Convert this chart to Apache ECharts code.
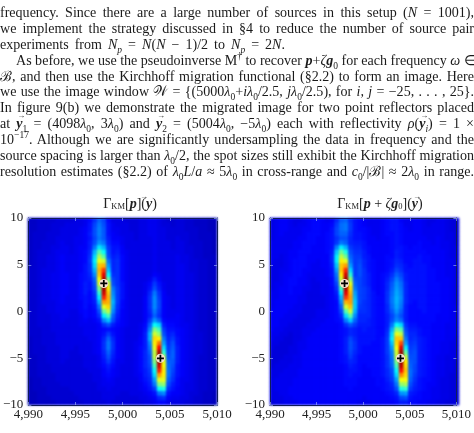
<!DOCTYPE html>
<html>
<head>
<meta charset="utf-8">
<title>Kirchhoff migration images</title>
<style>
  html, body { margin:0; padding:0; background:#fff; width:474px; height:433px; overflow:hidden; }
  #heat, #axes { position:absolute; left:0; top:0; width:474px; height:433px; }
  #heat { filter:blur(1.1px); }
  #axes { filter:blur(0.45px); }
  #text { position:absolute; left:0; top:0; width:474px; filter:blur(0.45px);
          font-family:"Liberation Serif",serif; font-size:14.05px; color:#1a1a1a; }
  #text div { position:absolute; left:0; width:474px; height:16px; line-height:16px; white-space:nowrap;
              text-align:justify; text-align-last:justify; }
  #text div.ind { left:16px; width:458px; }
  #text sub { font-size:9.5px; line-height:0; }
  #text sup { font-size:9.5px; line-height:0; }
  .v { position:relative; font-weight:bold; font-style:italic; }
  .v::before { content:"\2192"; position:absolute; left:1px; top:-7px; font-size:8px; font-weight:normal; font-style:normal; }
</style>
</head>
<body>
<div id="heat"></div>
<div id="axes"></div>
<div id="text">
  <div style="top:4px">frequency. Since there are a large number of sources in this setup (<i>N</i> = 1001),</div>
  <div style="top:20px">we implement the strategy discussed in §4 to reduce the number of source pair</div>
  <div style="top:36px;width:285px">experiments from <i>N<sub>p</sub></i> = <i>N</i>(<i>N</i> − 1)/2 to <i>N<sub>p</sub></i> = 2<i>N</i>.</div>
  <div class="ind" style="top:52px">As before, we use the pseudoinverse M<sup>†</sup> to recover <b><i>p</i></b>+<i>ζ</i><b><i>g</i></b><sub>0</sub> for each frequency <i>ω</i> ∈</div>
  <div style="top:68px">ℬ, and then use the Kirchhoff migration functional (§2.2) to form an image. Here</div>
  <div style="top:83px">we use the image window 𝒲 = {(5000<i>λ</i><sub>0</sub>+<i>iλ</i><sub>0</sub>/2.5, <i>jλ</i><sub>0</sub>/2.5), for <i>i, j</i> = −25, . . . , 25}.</div>
  <div style="top:99px">In figure 9(b) we demonstrate the migrated image for two point reflectors placed</div>
  <div style="top:115px">at <span class="v">y</span><sub>1</sub> = (4098<i>λ</i><sub>0</sub>, 3<i>λ</i><sub>0</sub>) and <span class="v">y</span><sub>2</sub> = (5004<i>λ</i><sub>0</sub>, −5<i>λ</i><sub>0</sub>) each with reflectivity <i>ρ</i>(<span class="v">y</span><sub><i>i</i></sub>) = 1 ×</div>
  <div style="top:131px">10<sup>−17</sup>. Although we are significantly undersampling the data in frequency and the</div>
  <div style="top:147px">source spacing is larger than <i>λ</i><sub>0</sub>/2, the spot sizes still exhibit the Kirchhoff migration</div>
  <div style="top:163px">resolution estimates (§2.2) of <i>λ</i><sub>0</sub><i>L</i>/<i>a</i> ≈ 5<i>λ</i><sub>0</sub> in cross-range and <i>c</i><sub>0</sub>/|ℬ| ≈ 2<i>λ</i><sub>0</sub> in range.</div>
</div>
<script src="https://cdn.jsdelivr.net/npm/echarts@6/dist/echarts.min.js"></script>
<script>
var xCells = ['4990','4990.5','4991','4991.5','4992','4992.5','4993','4993.5','4994','4994.5','4995','4995.5','4996','4996.5','4997','4997.5','4998','4998.5','4999','4999.5','5000','5000.5','5001','5001.5','5002','5002.5','5003','5003.5','5004','5004.5','5005','5005.5','5006','5006.5','5007','5007.5','5008','5008.5','5009','5009.5','5010'];
var yCells = ['10','9.5','9','8.5','8','7.5','7','6.5','6','5.5','5','4.5','4','3.5','3','2.5','2','1.5','1','0.5','0','-0.5','-1','-1.5','-2','-2.5','-3','-3.5','-4','-4.5','-5','-5.5','-6','-6.5','-7','-7.5','-8','-8.5','-9','-9.5','-10'];

// image values, rows run from y = 10 down to y = -10 (0-100)
var imageP = [
[7,7,8,8,8,8,9,9,9,9, 10,10,11,13,17,22,19,13,10,10, 10,9,9,9,10,10,11,11,10,9, 8,8,9,9,8,8,7,7,7,6,6],
[7,7,8,8,8,9,9,9,10,10, 10,10,11,14,19,24,20,14,11,10, 10,10,9,9,10,10,11,11,10,9, 9,8,9,9,8,8,7,7,7,6,6],
[7,7,8,8,8,9,9,10,10,10, 10,11,12,14,20,25,21,14,11,11, 10,10,9,9,10,10,11,11,10,10, 9,9,9,9,8,8,8,7,7,6,6],
[7,8,8,8,9,9,9,10,10,10, 10,11,12,15,20,25,21,14,12,11, 10,10,10,9,10,10,11,11,10,10, 9,9,9,9,9,8,8,7,7,7,6],
[7,8,8,8,9,9,10,10,10,10, 11,11,12,14,19,24,21,15,12,12, 11,10,10,9,10,10,10,11,10,10, 9,9,10,9,9,8,8,7,7,7,6],
[7,8,8,9,9,9,10,11,10,10, 11,11,12,15,20,27,24,16,13,13, 11,10,10,10,10,10,10,11,10,10, 10,9,10,10,9,8,8,8,7,7,6],
[7,8,8,9,9,10,10,11,11,10, 11,12,12,15,24,35,30,18,14,14, 12,10,10,10,10,10,10,11,10,10, 10,9,10,10,9,9,8,8,7,7,6],
[7,8,9,9,9,10,11,11,11,10, 11,12,13,16,30,46,38,19,14,15, 12,11,10,10,10,10,10,11,10,10, 10,10,10,10,9,9,8,8,7,7,6],
[7,8,9,9,10,10,11,12,11,11, 11,12,13,17,34,54,46,20,15,16, 13,11,10,10,10,10,10,11,10,10, 10,10,11,10,10,9,8,8,7,7,7],
[7,8,9,9,10,10,11,12,11,11, 11,12,13,18,36,61,58,24,16,17, 13,11,10,10,10,10,10,11,10,10, 10,10,11,10,10,9,9,8,8,7,7],
[7,8,9,9,10,10,11,12,11,11, 11,12,14,17,34,68,70,28,16,17, 13,11,10,10,10,10,10,11,10,10, 10,10,11,11,10,9,9,8,8,7,7],
[8,8,9,10,10,10,11,12,11,11, 11,12,14,17,30,70,82,32,16,17, 13,11,10,10,10,10,10,11,10,10, 10,10,11,11,10,9,9,8,8,7,7],
[8,8,9,10,10,11,11,12,12,11, 11,13,14,16,26,68,90,38,17,17, 13,11,10,10,10,10,10,12,11,10, 10,10,11,11,10,10,9,8,8,7,7],
[8,8,9,10,10,11,11,12,12,11, 11,13,14,15,22,62,96,48,19,17, 13,11,10,10,10,10,11,15,12,10, 10,10,11,11,10,10,9,8,8,7,7],
[8,8,9,10,10,11,11,12,12,11, 11,13,15,14,20,58,100,58,20,17, 14,11,10,10,10,11,13,18,14,11, 10,10,11,11,10,10,9,8,8,7,7],
[8,8,9,10,10,11,11,12,12,11, 11,13,15,14,19,50,97,64,24,18, 14,11,10,10,10,11,14,20,15,11, 10,10,11,11,10,10,9,8,8,7,7],
[8,8,9,10,10,11,11,12,12,11, 11,13,15,13,17,42,92,68,26,18, 14,11,10,10,10,11,16,24,17,12, 10,10,11,11,10,10,9,8,8,7,7],
[8,8,9,10,10,11,11,12,11,11, 11,13,14,13,16,36,84,70,28,18, 14,11,10,10,10,12,17,26,18,12, 11,10,11,11,10,10,9,8,8,7,7],
[8,8,9,10,10,10,11,12,11,11, 11,12,14,13,15,30,72,70,30,18, 13,11,10,10,10,12,17,26,19,12, 11,10,11,11,10,10,9,8,8,7,7],
[8,8,9,9,10,10,11,11,11,11, 11,12,14,12,14,24,60,66,28,17, 13,11,10,10,10,12,17,26,19,12, 11,10,11,11,10,10,9,8,8,7,7],
[8,8,9,9,10,10,11,11,11,10, 10,12,13,12,13,20,48,56,26,16, 12,11,10,10,10,12,16,24,18,12, 11,11,11,11,10,10,9,8,8,7,7],
[8,8,9,9,9,10,10,11,11,10, 10,11,13,12,13,17,36,44,22,15, 12,11,10,10,10,12,15,22,17,12, 11,11,12,11,10,10,9,8,8,7,7],
[8,8,9,9,9,10,10,11,10,10, 10,11,12,11,12,14,26,32,20,14, 12,11,10,10,10,12,18,27,22,13, 12,12,12,11,10,10,9,8,8,7,7],
[8,8,9,9,9,10,10,10,10,10, 10,11,11,11,11,12,17,20,15,13, 12,11,10,10,11,13,22,38,34,15, 13,13,12,11,11,10,9,8,8,7,7],
[8,8,8,9,9,10,10,10,10,10, 10,10,11,11,11,12,13,14,13,12, 11,10,10,10,11,14,26,50,44,18, 14,14,13,12,11,10,9,8,8,7,7],
[8,8,8,9,9,9,10,10,10,10, 10,10,11,11,11,12,14,18,14,12, 11,10,10,10,11,15,30,58,52,20, 15,16,13,12,11,10,9,9,8,7,7],
[7,8,8,9,9,9,10,10,10,10, 10,10,10,11,11,12,16,22,16,12, 11,10,10,10,12,15,30,66,64,24, 16,18,14,12,11,10,9,9,8,7,7],
[7,8,8,9,9,9,10,10,10,10, 10,10,10,10,11,12,17,24,17,12, 11,10,10,11,12,15,26,64,76,28, 17,20,14,12,11,10,9,9,8,7,7],
[7,8,8,8,9,9,9,10,10,10, 9,10,10,10,11,12,17,24,17,12, 11,10,10,11,13,15,24,60,87,34, 18,21,15,12,11,10,9,9,8,7,7],
[7,8,8,8,9,9,9,10,10,9, 9,10,10,10,11,12,16,22,16,12, 11,10,10,11,13,16,22,56,95,42, 19,22,15,12,11,10,9,9,8,7,7],
[7,7,8,8,9,9,9,10,10,9, 9,9,10,10,10,11,15,20,15,12, 11,10,10,11,13,16,20,56,100,54, 20,22,15,12,11,10,9,8,8,7,7],
[7,7,8,8,9,9,9,10,9,9, 9,9,10,10,10,11,14,18,14,11, 11,10,10,11,13,16,20,50,97,60, 22,21,15,12,11,10,9,8,8,7,7],
[7,7,8,8,8,9,9,9,9,9, 9,9,10,10,10,11,13,15,13,11, 10,10,10,11,13,16,19,44,92,62, 23,20,14,12,11,10,9,8,8,7,7],
[7,7,8,8,8,9,9,9,9,9, 9,9,9,10,10,10,12,14,12,11, 10,10,10,11,13,15,18,38,84,64, 24,19,14,12,11,10,9,8,8,7,7],
[7,7,8,8,8,8,9,9,9,9, 9,9,9,9,10,10,12,13,12,11, 10,10,10,11,12,15,17,34,72,64, 24,18,14,12,11,10,9,8,8,7,7],
[6,7,7,8,8,8,9,9,9,9, 9,9,9,9,10,10,11,12,11,10, 10,10,10,10,12,14,16,28,60,60, 22,17,13,11,11,10,9,8,8,7,7],
[6,7,7,8,8,8,8,9,9,9, 9,9,9,9,9,10,11,11,11,10, 10,10,10,10,11,13,15,24,50,52, 20,15,13,11,10,10,9,8,8,7,7],
[6,7,7,7,8,8,8,8,8,9, 9,9,9,9,9,10,10,11,10,10, 10,10,10,10,11,12,14,18,38,40, 17,14,12,11,10,10,9,8,8,7,7],
[6,6,7,7,8,8,8,8,8,8, 9,9,9,9,9,9,10,10,10,10, 9,9,10,10,10,11,12,14,24,26, 14,12,12,11,10,9,9,8,7,7,6],
[6,6,7,7,7,8,8,8,8,8, 8,9,9,9,9,9,10,10,10,9, 9,9,9,9,10,10,11,12,16,17, 12,11,11,10,10,9,8,8,7,7,6],
[6,6,7,7,7,7,8,8,8,8, 8,8,9,9,9,9,9,10,9,9, 9,9,9,9,9,10,10,11,13,13, 11,10,10,10,9,9,8,8,7,7,6]
];

// second image, noisier background
var imagePG = [
[10,11,12,12,11,10,10,11,12,13, 13,12,11,12,16,21,22,17,14,13, 12,11,11,11,12,13,14,14,12,11, 11,12,12,11,10,10,11,11,10,9,9],
[10,11,12,12,11,10,11,11,12,13, 13,12,12,13,18,23,24,18,14,13, 12,11,11,11,12,13,14,14,13,11, 11,12,12,11,10,11,11,11,10,9,9],
[10,11,12,12,11,11,11,12,12,13, 13,12,12,14,19,23,24,18,14,13, 13,12,11,11,12,13,14,14,13,12, 11,12,12,11,11,11,11,11,10,9,9],
[10,11,12,11,11,11,11,12,13,13, 13,12,13,14,19,22,22,17,14,14, 13,12,11,11,12,13,13,14,13,12, 12,12,12,11,11,11,11,11,10,10,9],
[10,11,11,11,11,11,12,12,13,13, 12,12,13,14,17,20,20,16,14,14, 13,12,12,11,12,12,13,14,13,12, 12,12,12,12,11,11,12,11,10,10,9],
[11,11,11,11,11,12,12,13,13,13, 12,12,13,14,18,24,22,16,15,15, 14,12,12,12,12,12,13,14,13,12, 12,12,13,12,12,11,12,11,11,10,9],
[11,11,11,11,11,12,12,13,13,12, 12,12,13,14,25,36,30,18,16,16, 14,13,12,12,12,12,13,14,14,13, 12,13,13,12,12,12,12,11,11,10,10],
[11,11,11,11,12,12,13,13,13,12, 12,12,13,15,32,48,40,20,17,17, 15,13,12,12,12,12,13,15,14,13, 13,13,13,13,12,12,12,12,11,10,10],
[11,11,10,11,12,12,13,13,12,12, 12,12,12,16,36,56,48,22,18,18, 15,14,12,12,12,13,13,15,14,13, 13,13,14,13,13,12,12,12,11,10,10],
[11,10,10,11,12,13,13,13,12,12, 11,12,12,16,36,64,60,24,18,19, 16,14,13,12,12,13,14,16,15,13, 13,14,14,13,13,12,12,12,11,11,10],
[10,10,10,11,12,13,13,13,12,11, 11,12,12,15,32,68,72,28,18,20, 16,14,13,12,12,13,14,17,16,14, 13,14,14,14,13,12,12,12,11,11,10],
[10,10,11,11,12,13,13,12,12,11, 11,11,12,14,28,68,84,34,18,20, 17,14,13,12,12,13,15,19,17,14, 14,14,14,14,13,13,12,12,11,11,10],
[10,10,11,12,12,13,13,12,11,11, 11,11,12,14,24,64,92,42,18,20, 17,15,13,12,13,14,17,22,19,15, 14,14,14,14,13,13,12,12,11,11,10],
[10,10,11,12,13,13,12,12,11,10, 11,11,11,13,22,58,97,52,20,19, 17,15,13,12,13,15,19,25,21,15, 14,14,14,14,13,13,12,12,12,11,10],
[10,11,11,12,13,13,12,12,11,10, 10,11,11,13,19,52,100,60,22,19, 17,15,13,12,13,16,21,27,23,16, 14,14,14,14,13,13,13,12,12,11,10],
[10,11,12,12,13,12,12,11,11,10, 10,11,11,12,17,44,96,66,24,19, 18,16,13,12,13,16,22,28,24,16, 14,14,14,14,13,13,13,12,12,11,10],
[11,11,12,12,13,12,12,11,10,10, 10,11,11,12,15,36,90,70,28,19, 18,16,14,12,13,17,23,29,25,16, 14,14,14,14,13,13,13,12,12,11,10],
[11,11,12,12,12,12,11,11,10,10, 10,10,11,12,14,30,82,72,30,19, 18,16,14,13,13,17,24,30,26,16, 14,14,14,14,13,13,13,12,12,11,10],
[11,12,12,12,12,12,11,11,10,10, 10,10,11,12,13,26,70,72,32,19, 17,16,14,13,13,17,24,30,25,16, 14,13,14,14,13,13,13,12,12,11,10],
[11,12,12,12,12,11,11,10,10,10, 10,10,11,12,13,22,58,68,32,18, 17,16,14,13,13,16,23,29,24,15, 13,13,14,14,13,13,13,12,12,11,11],
[12,12,12,12,11,11,11,10,10,10, 11,11,11,12,13,19,46,58,30,17, 17,16,14,13,13,16,21,27,22,15, 13,13,13,14,13,13,13,12,12,11,11],
[12,12,12,11,11,11,10,10,10,10, 11,11,11,12,13,16,34,46,26,16, 16,16,14,13,13,15,19,24,20,15, 13,13,13,13,13,13,12,12,12,11,11],
[12,12,11,11,11,10,10,10,10,11, 11,11,12,12,13,14,25,33,22,16, 16,15,14,13,13,15,20,26,23,15, 13,13,13,13,13,13,12,12,12,11,11],
[12,12,11,11,10,10,10,10,11,11, 11,12,12,12,12,13,17,21,18,15, 15,15,14,13,13,15,24,38,34,17, 14,14,13,13,13,12,12,12,11,11,11],
[12,11,11,10,10,10,10,11,11,11, 12,12,12,12,12,13,14,16,15,14, 15,14,14,13,13,16,30,50,46,19, 15,15,14,13,13,12,12,12,11,11,11],
[11,11,10,10,9,10,10,11,11,12, 12,12,12,12,12,13,14,16,15,14, 14,14,14,13,13,17,34,60,56,21, 16,16,14,13,13,12,12,12,11,11,11],
[11,10,10,9,9,10,10,11,12,12, 12,12,12,12,12,13,15,19,16,14, 14,14,14,13,14,18,36,68,68,24, 16,17,15,14,13,12,12,12,11,11,10],
[10,10,9,9,9,10,11,11,12,12, 12,12,12,12,12,13,15,20,17,14, 14,14,13,13,14,18,32,66,80,28, 17,18,15,14,13,12,12,11,11,10,10],
[10,9,9,9,10,10,11,11,12,12, 12,12,12,12,12,13,15,20,17,14, 13,13,13,13,14,18,28,62,90,36, 18,19,15,14,13,12,12,11,11,10,10],
[9,9,9,9,10,10,11,12,12,12, 12,12,12,12,12,13,15,19,16,14, 13,13,13,13,14,18,25,58,97,46, 19,20,15,14,13,12,12,11,11,10,10],
[9,9,9,10,10,11,11,12,12,12, 12,12,12,12,12,13,14,18,15,13, 13,13,13,13,14,17,24,56,100,56, 20,20,15,14,13,12,11,11,10,10,10],
[9,9,10,10,10,11,11,12,12,12, 12,12,12,12,12,13,14,16,15,13, 13,13,13,13,14,17,23,50,98,64, 21,20,15,14,13,12,11,11,10,10,9],
[9,10,10,10,11,11,11,12,12,12, 12,12,12,12,12,12,13,15,14,13, 12,13,13,13,14,17,22,44,94,66, 22,19,15,14,13,12,11,11,10,10,9],
[10,10,10,11,11,11,12,12,12,12, 12,12,12,12,12,12,13,14,14,13, 12,12,13,13,14,16,20,38,86,68, 23,19,15,14,13,12,11,11,10,10,9],
[10,10,11,11,11,11,12,12,12,12, 12,12,12,12,12,12,13,14,13,13, 12,12,13,13,14,16,19,34,74,66, 23,18,15,14,13,12,11,11,10,9,9],
[10,11,11,11,11,12,12,12,12,12, 12,12,12,12,12,12,13,13,13,12, 12,12,12,13,13,15,18,28,62,62, 22,17,14,13,13,12,11,10,10,9,9],
[10,11,11,11,11,12,12,12,12,12, 12,12,12,12,12,12,13,13,13,12, 12,12,12,13,13,14,16,24,52,54, 20,16,14,13,12,12,11,10,10,9,9],
[10,11,11,11,12,12,12,12,12,12, 12,12,12,12,12,12,12,13,12,12, 12,12,12,12,13,14,15,20,40,42, 18,15,14,13,12,11,11,10,10,9,9],
[10,10,11,11,12,12,12,12,12,12, 12,12,12,12,12,12,12,12,12,12, 12,12,12,12,12,13,14,16,27,28, 15,14,13,12,12,11,11,10,10,9,9],
[10,10,10,11,11,12,12,12,12,12, 12,12,12,12,12,12,12,12,12,12, 11,12,12,12,12,12,13,14,19,20, 14,13,13,12,12,11,11,10,10,9,9],
[9,10,10,11,11,11,12,12,12,12, 12,12,12,12,12,12,12,12,12,11, 11,11,12,12,12,12,12,13,15,15, 13,13,12,12,11,11,10,10,9,9,9]
];

var reflectors = [[4998, 3], [5004, -5]];
var jet = ['#000080', '#0000ff', '#0080ff', '#00ffff', '#80ff80', '#ffff00', '#ff8000', '#ff0000', '#800000'];
var plotLefts = [28, 270];
var titleLefts = [125, 375];
var arrowLefts = [140, 413];
var plotTop = 218, plotW = 189, plotH = 187;
var plus = 'path://M-1,-4 L1,-4 L1,-1 L4,-1 L4,1 L1,1 L1,4 L-1,4 L-1,1 L-4,1 L-4,-1 L-1,-1 Z';

function cells(rows) {
  var out = [];
  rows.forEach(function (row, r) {
    row.forEach(function (v, k) { out.push([k, r, v]); });
  });
  return out;
}

// heatmaps go in their own chart so the cells can be softened more than the labels
var heatChart = echarts.init(document.getElementById('heat'));
heatChart.setOption({
  animation: false,
  grid: plotLefts.map(function (l) { return { left: l, top: plotTop, width: plotW, height: plotH, show: true, borderWidth: 0, backgroundColor: '#0000b8' }; }),
  xAxis: plotLefts.map(function (l, i) { return { type: 'category', gridIndex: i, data: xCells, show: false }; }),
  yAxis: plotLefts.map(function (l, i) { return { type: 'category', gridIndex: i, data: yCells, show: false, inverse: true }; }),
  visualMap: { show: false, min: 0, max: 100, seriesIndex: [0, 1], inRange: { color: jet } },
  series: [imageP, imagePG].map(function (rows, i) {
    return { type: 'heatmap', xAxisIndex: i, yAxisIndex: i, data: cells(rows), progressive: 0, silent: true, itemStyle: { borderWidth: 0 } };
  })
});

var axisChart = echarts.init(document.getElementById('axes'));
var tickStyle = { inside: true, length: 3, lineStyle: { color: 'rgba(170,190,255,0.6)' } };
var lineStyle = { onZero: false, lineStyle: { color: '#101c58', width: 1 } };
var labelFont = { fontFamily: 'Liberation Serif', fontSize: 13, color: '#222' };
var xAx = [], yAx = [], marks = [];
plotLefts.forEach(function (l, i) {
  xAx.push({ type: 'value', gridIndex: i, position: 'bottom', min: 4990, max: 5010, interval: 5, splitLine: { show: false },
    axisLine: lineStyle, axisTick: tickStyle,
    axisLabel: Object.assign({ margin: 3, showMinLabel: true, showMaxLabel: true, hideOverlap: false,
      formatter: function (v) { return String(v).replace(/(\d)(\d{3})$/, '$1,$2'); } }, labelFont) });
  xAx.push({ type: 'value', gridIndex: i, position: 'top', min: 4990, max: 5010, interval: 5, splitLine: { show: false },
    axisLine: lineStyle, axisTick: tickStyle, axisLabel: { show: false } });
  yAx.push({ type: 'value', gridIndex: i, position: 'left', min: -10, max: 10, interval: 5, splitLine: { show: false },
    axisLine: lineStyle, axisTick: tickStyle,
    axisLabel: Object.assign({ margin: 5, showMinLabel: true, showMaxLabel: true, hideOverlap: false,
      formatter: function (v) { return String(v).replace('-', '\u2212'); } }, labelFont) });
  yAx.push({ type: 'value', gridIndex: i, position: 'right', min: -10, max: 10, interval: 5, splitLine: { show: false },
    axisLine: lineStyle, axisTick: tickStyle, axisLabel: { show: false } });
  marks.push({ type: 'scatter', xAxisIndex: i * 2, yAxisIndex: i * 2, data: reflectors, symbol: 'circle', symbolSize: 9,
    itemStyle: { color: '#f7e3cf', opacity: 1 }, silent: true });
  marks.push({ type: 'scatter', xAxisIndex: i * 2, yAxisIndex: i * 2, data: reflectors, symbol: plus, symbolSize: 7,
    itemStyle: { color: '#000', opacity: 1 }, silent: true });
});

var richTitle = {
  m: { fontFamily: 'Liberation Serif', fontSize: 14, fontWeight: 'normal', color: '#222' },
  s: { fontFamily: 'Liberation Serif', fontSize: 8.5, fontWeight: 'normal', color: '#222', verticalAlign: 'bottom', padding: [5, 0, 0, 0] },
  b: { fontFamily: 'Liberation Serif', fontSize: 14, fontWeight: 'bold', fontStyle: 'italic', color: '#222' },
  i: { fontFamily: 'Liberation Serif', fontSize: 14, fontWeight: 'normal', fontStyle: 'italic', color: '#222' }
};
var titleTexts = [
  '{m|\u0393}{s|KM}{m|[}{b|p}{m|](}{b|y}{m|)}',
  '{m|\u0393}{s|KM}{m|[}{b|p}{m| + }{i|\u03b6}{b|g}{s|0}{m|](}{b|y}{m|)}'
];

axisChart.setOption({
  animation: false,
  title: titleTexts.map(function (t, i) {
    return { text: t, left: titleLefts[i], top: 192, textAlign: 'center', textStyle: { fontWeight: 'normal', rich: richTitle } };
  }),
  graphic: arrowLefts.map(function (x) {
    return { type: 'text', left: x, top: 193, style: { text: '\u2192', font: '8px "Liberation Serif"', fill: '#222' } };
  }),
  grid: plotLefts.map(function (l) { return { left: l, top: plotTop, width: plotW, height: plotH }; }),
  xAxis: xAx,
  yAxis: yAx,
  series: marks
});
</script>
</body>
</html>
